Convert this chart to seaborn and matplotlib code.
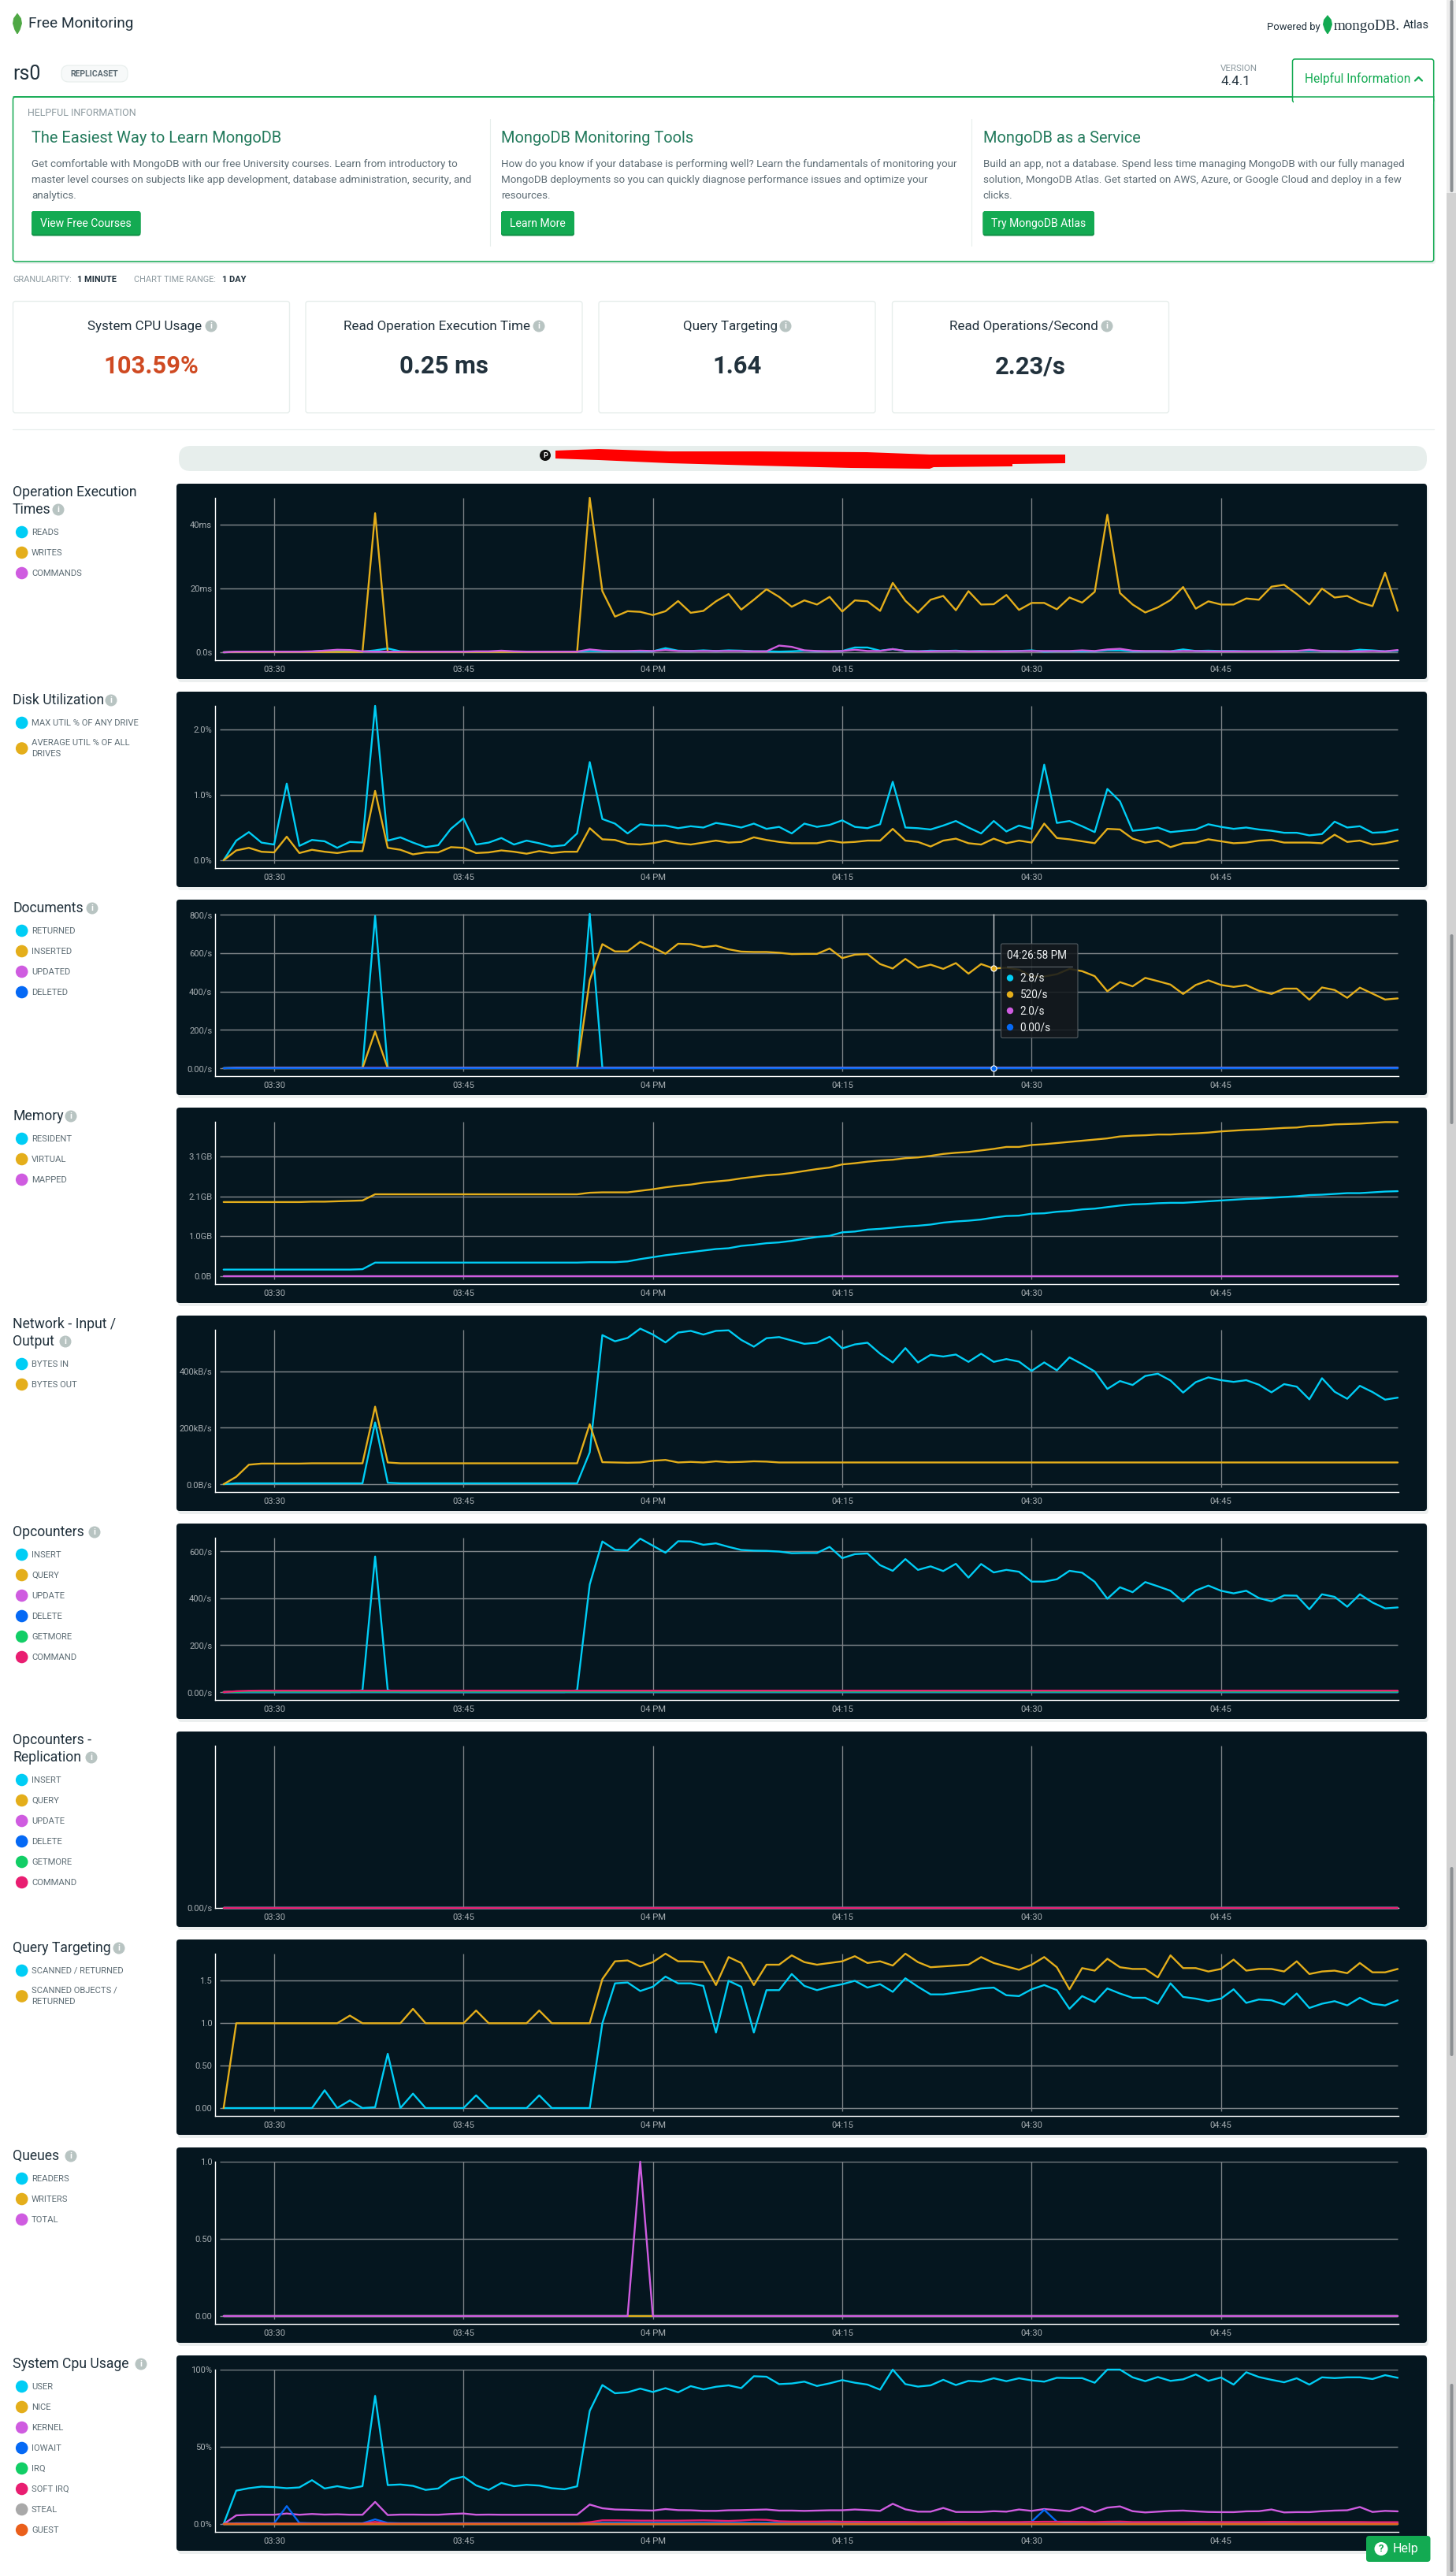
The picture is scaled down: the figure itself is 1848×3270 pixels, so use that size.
import matplotlib
matplotlib.use("Agg")
import matplotlib.pyplot as plt
import pandas as pd
import seaborn as sns
from matplotlib.patches import Circle, FancyBboxPatch, Polygon, Rectangle

W, H = 1848, 3270

# sampled once a minute, 03:26 to 04:59 (minutes after 03:30)
minutes = list(range(-4, 90))
time_ticks = [0, 15, 30, 45, 60, 75]
time_labels = ["03:30", "03:45", "04 PM", "04:15", "04:30", "04:45"]

op_reads = [0.0,0.1,0.2,0.2,0.2,0.2,0.2,0.2,0.5,0.4,0.3,0.2,0.6,1.2,0.3,0.2,0.2,0.2,0.2,0.2,0.2,0.2,0.2,0.2,
            0.2,0.2,0.2,0.2,0.2,0.4,0.3,0.3,0.3,0.3,0.3,1.3,0.5,0.4,0.6,0.4,0.6,0.5,0.3,0.3,0.2,0.3,0.5,0.3,
            0.3,0.4,1.5,1.5,0.5,1.0,0.4,0.3,0.5,0.4,0.5,0.3,0.4,0.3,0.4,0.4,0.6,0.2,0.3,0.3,0.3,0.3,0.6,0.6,
            0.3,0.3,0.3,0.3,0.9,0.4,0.5,0.4,0.4,0.3,0.3,0.3,0.4,0.4,0.5,0.4,0.3,0.3,0.8,0.6,0.3,0.5]
op_writes = [0.0,0.1,0.1,0.1,0.1,0.1,0.1,0.1,0.1,0.1,0.1,0.1,43.7,0.1,0.1,0.1,0.1,0.1,0.1,0.1,0.1,0.1,0.1,0.1,
             0.1,0.1,0.1,0.1,0.1,48.5,19.2,11.2,12.9,12.7,11.7,12.9,16.1,12.4,13.0,16.0,18.3,13.4,16.5,19.8,17.4,14.3,16.3,15.0,
             17.4,12.8,16.3,16.0,13.0,21.8,16.2,12.5,16.5,17.7,13.2,19.2,15.0,15.1,18.0,13.3,15.5,15.5,13.5,17.2,15.6,19.0,43.2,18.6,
             15.0,12.5,14.1,16.4,20.5,13.7,16.0,15.0,15.0,16.9,16.5,20.6,21.2,18.3,15.0,20.0,17.2,17.7,15.7,14.5,25.0,13.0]
op_commands = [0.0,0.2,0.2,0.2,0.2,0.2,0.2,0.3,0.5,0.8,0.7,0.3,0.2,0.2,0.2,0.2,0.2,0.2,0.2,0.2,0.3,0.3,0.5,0.3,
               0.2,0.2,0.2,0.2,0.2,0.9,0.5,0.4,0.4,0.5,0.4,0.7,0.4,0.4,0.4,0.4,0.4,0.4,0.3,0.3,2.1,1.7,0.6,0.4,
               0.3,0.4,0.8,0.4,0.4,1.0,0.4,0.3,0.3,0.4,0.4,0.3,0.3,0.3,0.3,0.4,0.4,0.4,0.4,0.4,0.6,0.4,0.9,1.1,
               0.5,0.4,0.4,0.3,0.4,0.4,0.3,0.3,0.3,0.3,0.3,0.3,0.3,0.4,0.8,0.4,0.4,0.3,0.3,0.4,0.3,0.7]

disk_max = [0.0,0.3,0.43,0.27,0.24,1.17,0.22,0.31,0.29,0.19,0.28,0.27,2.36,0.3,0.35,0.27,0.2,0.23,0.48,0.64,0.24,0.27,0.34,0.24,
            0.3,0.26,0.21,0.23,0.41,1.5,0.63,0.56,0.41,0.55,0.53,0.53,0.49,0.52,0.5,0.57,0.54,0.5,0.56,0.48,0.51,0.41,0.56,0.51,
            0.54,0.61,0.51,0.49,0.55,1.2,0.5,0.49,0.47,0.53,0.6,0.5,0.41,0.6,0.44,0.53,0.48,1.46,0.57,0.6,0.52,0.43,1.09,0.9,
            0.45,0.47,0.5,0.43,0.45,0.47,0.55,0.51,0.48,0.5,0.47,0.45,0.42,0.42,0.38,0.4,0.59,0.5,0.52,0.42,0.43,0.47]
disk_avg = [0.0,0.15,0.19,0.13,0.12,0.36,0.11,0.16,0.13,0.11,0.14,0.14,1.06,0.19,0.16,0.09,0.12,0.12,0.2,0.19,0.11,0.12,0.15,0.13,
            0.1,0.14,0.11,0.13,0.13,0.49,0.32,0.31,0.25,0.24,0.26,0.3,0.26,0.24,0.27,0.3,0.27,0.28,0.35,0.31,0.28,0.26,0.26,0.26,
            0.3,0.27,0.28,0.3,0.3,0.48,0.3,0.28,0.21,0.3,0.33,0.26,0.24,0.33,0.26,0.3,0.27,0.56,0.34,0.32,0.29,0.26,0.48,0.47,
            0.33,0.27,0.3,0.2,0.26,0.27,0.32,0.29,0.26,0.27,0.3,0.31,0.27,0.27,0.27,0.26,0.39,0.28,0.3,0.24,0.26,0.3]

docs_returned = [0.0,2.8,2.8,2.8,2.8,2.8,2.8,2.8,2.8,2.8,2.8,2.8,794,2.8,2.8,2.8,2.8,2.8,2.8,2.8,2.8,2.8,2.8,2.8,
                 2.8,2.8,2.8,2.8,2.8,805,3.0,3.0,3.0,3.0,3.0,3.0,3.0,3.0,3.0,3.0,3.0,3.0,3.0,3.0,3.0,3.0,3.0,3.0,
                 3.0,3.0,3.0,3.0,3.0,3.0,3.0,3.0,3.0,3.0,3.0,3.0,3.0,2.8,3.0,3.0,3.0,3.0,3.0,3.0,3.0,3.0,3.0,3.0,
                 3.0,3.0,3.0,3.0,3.0,3.0,3.0,3.0,3.0,3.0,3.0,3.0,3.0,3.0,3.0,3.0,3.0,3.0,3.0,3.0,3.0,3.0]
docs_inserted = [0,0,0,0,0,0,0,0,0,0,0,0,191,0,0,0,0,0,0,0,0,0,0,0,
                 0,0,0,0,0,459,647,609,609,659,630,597,649,647,631,639,620,608,606,606,602,595,596,596,
                 624,574,592,595,543,520,570,524,540,518,548,493,543,520,524,514,479,478,490,518,506,480,401,449,
                 427,471,454,436,387,434,458,434,424,433,404,387,415,415,357,421,408,367,420,389,358,364]
docs_updated = [0.0,2.0,2.0,2.0,2.0,2.0,2.0,2.0,2.0,2.0,2.0,2.0,2.0,2.0,2.0,2.0,2.0,2.0,2.0,2.0,2.0,2.0,2.0,2.0,
                2.0,2.0,2.0,2.0,2.0,2.0,2.0,2.0,2.0,2.0,2.0,2.0,2.0,2.0,2.0,2.0,2.0,2.0,2.0,2.0,2.0,2.0,2.0,2.0,
                2.0,2.0,2.0,2.0,2.0,2.0,2.0,2.0,2.0,2.0,2.0,2.0,2.0,2.0,2.0,2.0,2.0,2.0,2.0,2.0,2.0,2.0,2.0,2.0,
                2.0,2.0,2.0,2.0,2.0,2.0,2.0,2.0,2.0,2.0,2.0,2.0,2.0,2.0,2.0,2.0,2.0,2.0,2.0,2.0,2.0,2.0]
docs_deleted = [0.0] * 94

mem_resident = [0.17,0.17,0.17,0.17,0.17,0.17,0.17,0.17,0.17,0.17,0.17,0.18,0.35,0.35,0.35,0.35,0.35,0.35,0.35,0.35,0.35,0.35,0.35,0.35,
                0.35,0.35,0.35,0.35,0.35,0.36,0.36,0.36,0.38,0.44,0.49,0.54,0.58,0.62,0.66,0.7,0.72,0.78,0.81,0.85,0.87,0.91,0.96,1.01,
                1.04,1.13,1.15,1.2,1.22,1.25,1.28,1.3,1.33,1.38,1.41,1.43,1.46,1.51,1.55,1.56,1.61,1.62,1.66,1.68,1.72,1.74,1.78,1.82,
                1.85,1.86,1.88,1.89,1.89,1.91,1.93,1.95,1.97,1.99,2.0,2.02,2.04,2.06,2.09,2.1,2.12,2.14,2.14,2.16,2.18,2.19]
mem_virtual = [1.91,1.91,1.91,1.91,1.91,1.91,1.91,1.92,1.92,1.93,1.94,1.95,2.11,2.11,2.11,2.11,2.11,2.11,2.11,2.11,2.11,2.11,2.11,2.11,
               2.11,2.11,2.11,2.11,2.11,2.15,2.16,2.16,2.16,2.2,2.24,2.29,2.33,2.36,2.41,2.44,2.47,2.52,2.56,2.6,2.62,2.66,2.71,2.76,
               2.8,2.88,2.91,2.95,2.98,3.0,3.04,3.06,3.1,3.15,3.18,3.2,3.24,3.28,3.33,3.33,3.38,3.4,3.43,3.46,3.49,3.52,3.55,3.6,
               3.62,3.63,3.65,3.65,3.67,3.68,3.7,3.73,3.75,3.77,3.78,3.8,3.82,3.83,3.87,3.88,3.91,3.92,3.93,3.95,3.97,3.97]
mem_mapped = [0.0] * 94

net_in = [0,3,3,3,3,3,3,3,3,3,3,3,219,5,3,3,3,3,3,3,3,3,3,3,
          3,3,3,3,3,113,529,507,519,552,531,503,538,544,531,544,546,512,488,518,522,510,498,502,
          523,482,496,502,463,432,483,432,459,453,460,434,463,434,444,435,402,432,404,450,426,400,338,366,
          352,384,392,368,325,362,379,369,363,369,353,326,355,346,301,376,328,303,349,327,300,307]
net_out = [0,26,69,73,73,73,73,74,74,74,74,74,275,77,74,74,74,74,74,74,74,74,74,74,
           74,74,74,74,74,213,78,77,76,77,83,86,77,79,77,81,78,79,81,80,77,77,77,77,
           77,77,77,77,77,77,77,77,77,77,77,77,77,77,77,77,77,77,77,77,77,77,77,77,
           77,77,77,77,77,77,77,77,77,77,77,77,77,77,77,77,77,77,77,77,77,77]

ops_insert = [0,0,0,0,0,0,0,0,0,0,0,8,578,8,0,0,0,0,0,0,0,0,0,0,
              0,0,0,0,8,459,642,607,604,654,624,594,643,642,628,634,619,606,603,602,599,592,593,593,
              619,571,588,591,541,517,567,521,536,516,547,488,546,510,521,513,471,471,481,517,509,470,398,447,
              426,469,451,432,386,433,454,432,421,432,401,387,412,411,353,417,406,364,417,382,357,361]
ops_query = [0.0,3.0,3.0,3.0,3.0,3.0,3.0,3.0,3.0,3.0,3.0,3.0,3.0,3.0,3.0,3.0,3.0,3.0,3.0,3.0,3.0,3.0,3.0,3.0,
             3.0,3.0,3.0,3.0,3.0,3.0,3.0,3.0,3.0,3.0,3.0,3.0,3.0,3.0,3.0,3.0,3.0,3.0,3.0,3.0,3.0,3.0,3.0,3.0,
             3.0,3.0,3.0,3.0,3.0,3.0,3.0,3.0,3.0,3.0,3.0,3.0,3.0,3.0,3.0,3.0,3.0,3.0,3.0,3.0,3.0,3.0,3.0,3.0,
             3.0,3.0,3.0,3.0,3.0,3.0,3.0,3.0,3.0,3.0,3.0,3.0,3.0,3.0,3.0,3.0,3.0,3.0,3.0,3.0,3.0,3.0]
ops_update = [0.0] * 94
ops_delete = [0.0] * 94
ops_getmore = [0.0,1.0,2.0,2.0,2.0,2.0,2.0,2.0,2.0,2.0,2.0,2.0,2.0,2.0,2.0,2.0,2.0,2.0,2.0,2.0,2.0,2.0,2.0,2.0,
               2.0,2.0,2.0,2.0,2.0,2.0,2.0,2.0,2.0,2.0,2.0,2.0,2.0,2.0,2.0,2.0,2.0,2.0,2.0,2.0,2.0,2.0,2.0,2.0,
               2.0,2.0,2.0,2.0,2.0,2.0,2.0,2.0,2.0,2.0,2.0,2.0,2.0,2.0,2.0,2.0,2.0,2.0,2.0,2.0,2.0,2.0,2.0,2.0,
               2.0,2.0,2.0,2.0,2.0,2.0,2.0,2.0,2.0,2.0,2.0,2.0,2.0,2.0,2.0,2.0,2.0,2.0,2.0,2.0,2.0,2.0]
ops_command = [0.0,4.0,6.0,6.5,6.5,6.5,6.5,6.5,6.5,6.5,6.5,6.5,6.5,6.5,6.5,6.5,6.5,6.5,6.5,6.5,6.5,6.5,6.5,6.5,
               6.5,6.5,6.5,6.5,6.5,6.5,6.5,6.5,6.5,6.5,6.5,6.5,6.5,6.5,6.5,6.5,6.5,6.5,6.5,6.5,6.5,6.5,6.5,6.5,
               6.5,6.5,6.5,6.5,6.5,6.5,6.5,6.5,6.5,6.5,6.5,6.5,6.5,6.5,6.5,6.5,6.5,6.5,6.5,6.5,6.5,6.5,6.5,6.5,
               6.5,6.5,6.5,6.5,6.5,6.5,6.5,6.5,6.5,6.5,6.5,6.5,6.5,6.5,6.5,6.5,6.5,6.5,6.5,6.5,6.5,6.5]

repl_zero = [0.0] * 94

qt_scanned = [0,0,0,0,0,0,0,0,0.21,0,0.09,0,0.01,0.64,0,0.17,0,0,0,0,0.15,0,0,0,
              0,0.15,0,0,0,0,1.0,1.47,1.48,1.38,1.43,1.55,1.47,1.47,1.44,0.89,1.5,1.43,0.89,1.39,1.39,1.58,1.44,1.39,
              1.43,1.46,1.5,1.42,1.46,1.37,1.53,1.43,1.34,1.34,1.36,1.38,1.41,1.42,1.33,1.32,1.4,1.45,1.39,1.17,1.32,1.25,1.41,1.35,
              1.3,1.3,1.23,1.47,1.31,1.29,1.26,1.29,1.4,1.24,1.28,1.27,1.22,1.35,1.18,1.23,1.26,1.21,1.3,1.23,1.21,1.27]
qt_objects = [0,1,1,1,1,1,1,1,1,1,1.09,1,1,1,1,1.17,1,1,1,1,1.15,1,1,1,
              1,1.15,1,1,1,1,1.52,1.73,1.74,1.67,1.72,1.82,1.73,1.73,1.72,1.45,1.78,1.71,1.45,1.69,1.69,1.8,1.72,1.69,
              1.71,1.73,1.79,1.71,1.73,1.68,1.82,1.72,1.66,1.67,1.68,1.69,1.78,1.71,1.67,1.63,1.69,1.78,1.66,1.4,1.65,1.62,1.76,1.66,
              1.64,1.64,1.54,1.8,1.65,1.65,1.61,1.64,1.75,1.62,1.64,1.64,1.61,1.73,1.58,1.61,1.62,1.59,1.71,1.6,1.6,1.64]

q_readers = [0.0] * 94
q_writers = [0.0] * 94
q_total = [0,0,0,0,0,0,0,0,0,0,0,0,0,0,0,0,0,0,0,0,0,0,0,0,
           0,0,0,0,0,0,0,0,0,1.0,0,0,0,0,0,0,0,0,0,0,0,0,0,0,
           0,0,0,0,0,0,0,0,0,0,0,0,0,0,0,0,0,0,0,0,0,0,0,0,
           0,0,0,0,0,0,0,0,0,0,0,0,0,0,0,0,0,0,0,0,0,0]

cpu_user = [0,21.6,23.2,24.2,23.9,23.2,23.7,28.4,23,24.5,23,24.5,83,25.2,25.6,24.7,22.1,23,28.8,30.7,25,22.1,26.6,24.5,
            25.4,24.9,23.2,22.5,24.4,73.3,90,84.7,85.3,87.7,85.5,88,85.3,89.3,87.2,88.9,89.8,88,95.7,95.4,90.6,91,92.2,89.4,
            91.1,93.2,91.5,90.3,87,100,90.6,89,89.8,93.4,90,92.7,92.2,94.4,92.5,94.4,93,92.2,94.7,94.5,94.5,91.5,100,100,
            95,92.5,95.2,92.7,93.7,96.9,92.7,94.9,90.3,98.3,95.2,93.4,91.8,94.4,90.3,95,94.5,95,95,93.9,96.4,94.7]
cpu_nice = [0.0] * 94
cpu_kernel = [0,5.6,6,6,6,6.8,6,6.5,6.1,6.3,6,6,14.3,5.8,6.1,6.1,6,6,6.5,6.8,6,6.1,6,6,
              6,6,6,6,6,12.6,10.2,9.4,9.2,8.9,8.7,9.7,9,8.9,8.5,8.5,8.9,9,9.2,9.4,8.7,8.7,8.5,8.7,
              8.9,8.9,9.4,9,8.5,13.1,9.5,8,8,10.4,7.8,7.8,7.8,8.3,8,9.4,8.5,9.7,9,8.3,11,7.8,10.6,11.4,
              8.3,7.5,8,8.5,8.7,8.2,7.8,7.7,7.7,8.2,8.3,9.4,7.5,7.7,7.7,8.3,8.7,8.9,11,7.8,8.5,8.2]
cpu_iowait = [0,0.5,0.5,0.5,0.5,11.6,0.7,0.5,0.5,0.5,0.5,0.5,3,0.7,0.5,0.5,0.5,0.5,0.5,0.5,0.5,0.5,0.5,0.5,
              0.5,0.5,0.5,0.5,0.5,0.6,0.8,0.8,0.8,0.8,0.8,0.8,0.8,0.8,0.8,0.8,0.8,0.8,0.8,0.8,0.8,0.8,0.8,0.8,
              0.8,0.8,0.8,0.8,0.8,0.8,0.8,0.8,0.8,0.8,0.8,0.8,0.8,0.8,0.8,0.8,1.5,9.2,1.5,0.8,0.8,0.8,0.8,0.8,
              0.8,0.8,0.8,0.8,0.8,0.8,0.8,0.8,0.8,0.8,0.8,0.8,0.8,0.8,0.8,0.8,0.8,0.8,0.8,0.8,0.8,0.8]
cpu_irq = [0.0] * 94
cpu_softirq = [0,0.2,0.2,0.2,0.2,0.2,0.2,0.2,0.2,0.2,0.2,0.2,1.4,0.2,0.2,0.2,0.2,0.2,0.2,0.2,0.2,0.2,0.2,0.2,
               0.2,0.2,0.2,0.2,0.3,1.2,2.4,2.4,2.3,2.2,2.2,2.2,2.2,2.3,2.4,2.2,2.0,2.3,2.8,2.7,1.8,1.6,1.6,1.6,
               1.7,1.5,1.5,1.4,1.4,1.4,1.4,1.3,1.3,1.3,1.4,1.3,1.3,1.3,1.3,1.3,1.4,1.5,1.5,1.5,1.4,1.3,1.5,1.6,
               1.3,1.3,1.3,1.3,1.3,1.4,1.3,1.3,1.3,1.3,1.3,1.4,1.4,1.3,1.3,1.3,1.3,1.3,1.3,1.2,1.2,1.2]
cpu_steal = [0.0] * 94
cpu_guest = [0.0] * 94

card_titles = ["System CPU Usage", "Read Operation Execution Time", "Query Targeting", "Read Operations/Second"]
card_values = ["103.59%", "0.25 ms", "1.64", "2.23/s"]

tooltip_rows = ["2.8/s", "520/s", "2.0/s", "0.00/s"]

CYAN = "#00CDF5"
AMBER = "#E4AE1B"
PURPLE = "#CF5CE0"
BLUE = "#0569F5"
GREEN = "#12CE66"
PINK = "#E91E71"
GRAY = "#A9A9A9"
ORANGE = "#EA5F1B"
PANEL = "#05161F"
GRID = "#7E8488"
DARK = "#21313C"
BODY = "#5D6C74"
MUTED = "#8C999F"
GREEN_BTN = "#13AA52"
HEAD_GREEN = "#237A5C"

charts = [
    dict(title=["Operation Execution", "Times"], icon_x=74, ymax=48.5, ticks=[0, 20, 40], ticklabels=["0.0s", "20ms", "40ms"],
         series=[("READS", op_reads, CYAN), ("WRITES", op_writes, AMBER), ("COMMANDS", op_commands, PURPLE)]),
    dict(title=["Disk Utilization"], icon_x=141, ymax=2.36, ticks=[0, 1, 2], ticklabels=["0.0%", "1.0%", "2.0%"],
         series=[("MAX UTIL % OF ANY DRIVE", disk_max, CYAN), ("AVERAGE UTIL % OF ALL\nDRIVES", disk_avg, AMBER)]),
    dict(title=["Documents"], icon_x=117, ymax=805, ticks=[0, 200, 400, 600, 800], ticklabels=["0.00/s", "200/s", "400/s", "600/s", "800/s"],
         series=[("RETURNED", docs_returned, CYAN), ("INSERTED", docs_inserted, AMBER), ("UPDATED", docs_updated, PURPLE), ("DELETED", docs_deleted, BLUE)]),
    dict(title=["Memory"], icon_x=90, ymax=3.978, ticks=[0, 1.03, 2.06, 3.09], ticklabels=["0.0B", "1.0GB", "2.1GB", "3.1GB"],
         series=[("RESIDENT", mem_resident, CYAN), ("VIRTUAL", mem_virtual, AMBER), ("MAPPED", mem_mapped, PURPLE)]),
    dict(title=["Network - Input /", "Output"], icon_x=83, ymax=548, ticks=[0, 200, 400], ticklabels=["0.0B/s", "200kB/s", "400kB/s"],
         series=[("BYTES IN", net_in, CYAN), ("BYTES OUT", net_out, AMBER)]),
    dict(title=["Opcounters"], icon_x=120, ymax=658, ticks=[0, 200, 400, 600], ticklabels=["0.00/s", "200/s", "400/s", "600/s"],
         series=[("INSERT", ops_insert, CYAN), ("QUERY", ops_query, AMBER), ("UPDATE", ops_update, PURPLE), ("DELETE", ops_delete, BLUE),
                 ("GETMORE", ops_getmore, GREEN), ("COMMAND", ops_command, PINK)]),
    dict(title=["Opcounters -", "Replication"], icon_x=116, ymax=1.0, ticks=[0], ticklabels=["0.00/s"], flat=True,
         series=[("INSERT", repl_zero, CYAN), ("QUERY", repl_zero, AMBER), ("UPDATE", repl_zero, PURPLE), ("DELETE", repl_zero, BLUE),
                 ("GETMORE", repl_zero, GREEN), ("COMMAND", repl_zero, PINK)]),
    dict(title=["Query Targeting"], icon_x=151, ymax=1.82, ticks=[0, 0.5, 1.0, 1.5], ticklabels=["0.00", "0.50", "1.0", "1.5"],
         series=[("SCANNED / RETURNED", qt_scanned, CYAN), ("SCANNED OBJECTS /\nRETURNED", qt_objects, AMBER)]),
    dict(title=["Queues"], icon_x=90, ymax=1.0, ticks=[0, 0.5, 1.0], ticklabels=["0.00", "0.50", "1.0"],
         series=[("READERS", q_readers, CYAN), ("WRITERS", q_writers, AMBER), ("TOTAL", q_total, PURPLE)]),
    dict(title=["System Cpu Usage"], icon_x=179, ymax=100, ticks=[0, 50, 100], ticklabels=["0.0%", "50%", "100%"],
         series=[("USER", cpu_user, CYAN), ("NICE", cpu_nice, AMBER), ("KERNEL", cpu_kernel, PURPLE), ("IOWAIT", cpu_iowait, BLUE),
                 ("IRQ", cpu_irq, GREEN), ("SOFT IRQ", cpu_softirq, PINK), ("STEAL", cpu_steal, GRAY), ("GUEST", cpu_guest, ORANGE)]),
]

sns.set_theme(style="dark")
plt.rcParams["font.family"] = ["Roboto", "DejaVu Sans"]

fig = plt.figure(figsize=(W / 100, H / 100), dpi=100, facecolor="white")
page = fig.add_axes([0, 0, 1, 1], zorder=0)
page.set_xlim(0, W)
page.set_ylim(H, 0)
page.axis("off")
over = fig.add_axes([0, 0, 1, 1], zorder=5)
over.set_xlim(0, W)
over.set_ylim(H, 0)
over.axis("off")
over.patch.set_alpha(0)


def txt(x, y, s, px, color=DARK, weight="normal", ha="left", ax=page, **kw):
    return ax.text(x, y, s, fontsize=px * 0.72, color=color, fontweight=weight, ha=ha, va="center", **kw)


def box(x0, y0, x1, y1, fc="white", ec="none", lw=1.0, r=3, ax=page, **kw):
    p = FancyBboxPatch((x0, y0), x1 - x0, y1 - y0, boxstyle=f"round,pad=0,rounding_size={r}",
                       fc=fc, ec=ec, lw=lw, **kw)
    ax.add_patch(p)
    return p


def leaf(x, y0, y1, half, color):
    page.add_patch(Polygon([(x, y0), (x + half * 0.8, y0 + (y1 - y0) * 0.25), (x + half, y0 + (y1 - y0) * 0.5),
                            (x + half * 0.6, y0 + (y1 - y0) * 0.8), (x + 0.6, y1), (x - 0.6, y1),
                            (x - half * 0.6, y0 + (y1 - y0) * 0.8), (x - half, y0 + (y1 - y0) * 0.5),
                            (x - half * 0.8, y0 + (y1 - y0) * 0.25)], fc=color, ec="none"))


def info_icon(x, y):
    page.add_patch(Circle((x, y), 7.5, fc="#B8C4C2", ec="none"))
    txt(x, y, "i", 11, color="white", weight="bold", ha="center")


# header
leaf(22, 16.5, 43, 6, "#4FA845")
txt(36, 30, "Free Monitoring", 19)
txt(1608, 34, "Powered by", 13)
leaf(1685, 19, 43, 6, "#13AA52")
page.text(1693, 33, "mongoDB.", fontsize=19 * 0.72, family="Liberation Serif", color=DARK, va="center")
txt(1781, 32, "Atlas", 14.5)
txt(16, 94, "rs0", 25)
box(78, 83, 162, 104, fc="#F7F9F9", ec="#E7EEEC", lw=0.8, r=9)
txt(120, 93.5, "REPLICASET", 10.5, color=BODY, weight="bold", ha="center")
txt(1549, 86.5, "VERSION", 11.5, color=MUTED)
txt(1549, 103.5, "4.4.1", 17)

# helpful information box
box(18, 126, 1822, 335, fc="#EEF2F1", r=3)
box(16.5, 123, 1819.7, 332, fc="white", ec=GREEN_BTN, lw=1.1, r=3)
box(1640.5, 75, 1819.7, 130, fc="white", ec=GREEN_BTN, lw=1.1, r=3)
page.add_patch(Rectangle((1641.5, 124), 177.5, 8, fc="white", ec="none", zorder=2))
page.plot([16.5, 1819.7], [123, 123], color=GREEN_BTN, lw=1.1, zorder=3)
txt(1656.5, 100, "Helpful Information", 15.5, color=GREEN_BTN)
page.plot([1796, 1800.5, 1805], [102.5, 98, 102.5], color=GREEN_BTN, lw=1.6)
txt(35, 143, "HELPFUL INFORMATION", 12.5, color=MUTED)
page.plot([622, 622], [151, 312], color="#E7EEEC", lw=0.8)
page.plot([1233, 1233], [151, 312], color="#E7EEEC", lw=0.8)

col_x = [40, 636, 1247.5]
col_heads = ["The Easiest Way to Learn MongoDB", "MongoDB Monitoring Tools", "MongoDB as a Service"]
col_lines = [
    ["Get comfortable with MongoDB with our free University courses. Learn from introductory to",
     "master level courses on subjects like app development, database administration, security, and",
     "analytics."],
    ["How do you know if your database is performing well? Learn the fundamentals of monitoring your",
     "MongoDB deployments so you can quickly diagnose performance issues and optimize your",
     "resources."],
    ["Build an app, not a database. Spend less time managing MongoDB with our fully managed",
     "solution, MongoDB Atlas. Get started on AWS, Azure, or Google Cloud and deploy in a few",
     "clicks."],
]
buttons = [("View Free Courses", 138.5), ("Learn More", 93), ("Try MongoDB Atlas", 141.5)]
for cx, head, lines, (label, bw) in zip(col_x, col_heads, col_lines, buttons):
    txt(cx, 175, head, 20, color=HEAD_GREEN)
    for ly, line in zip([208, 228.5, 248.5], lines):
        txt(cx, ly, line, 13.4, color=BODY)
    box(cx, 268, cx + bw, 299.5, fc="#0F8F45", r=3)
    box(cx, 268, cx + bw, 297.5, fc=GREEN_BTN, r=3)
    txt(cx + bw / 2, 284, label, 14, color="white", ha="center")

txt(16, 355, "GRANULARITY:", 11, color=MUTED)
txt(98.5, 355, "1 MINUTE", 11, weight="bold")
txt(170, 355, "CHART TIME RANGE:", 11, color=MUTED)
txt(282, 355, "1 DAY", 11, weight="bold")

# summary cards
card_x = [16.5, 388, 760, 1132.5]
card_icon = [268, 684, 997, 1405]
for cx, ttl, val, ic in zip(card_x, card_titles, card_values, card_icon):
    box(cx, 382.5, cx + 351, 524, fc="white", ec="#E7EEEC", lw=1.0, r=3)
    txt(cx + 167, 414, ttl, 17, ha="center")
    info_icon(ic, 414)
    txt(cx + 175.5, 465, val, 31, color="#CF4A22" if val.endswith("%") else DARK, weight="bold", ha="center")

page.plot([16, 1820], [545, 545], color="#E7EEEC", lw=0.9)

# server pill with the scribbled-out host name
box(227, 566, 1811, 598, fc="#E7EEEC", r=15)
page.add_patch(Circle((692, 578), 7, fc="#111111", ec="none"))
txt(692, 578, "P", 9, color="white", weight="bold", ha="center")
page.add_patch(Polygon([(705, 572), (760, 570), (850, 573), (960, 573), (1100, 574), (1180, 577), (1352, 577),
                        (1352, 588), (1285, 589), (1285, 592), (1185, 593), (1180, 595), (1080, 594), (960, 591),
                        (850, 588), (760, 584), (705, 582)], fc="#FF0000", ec="none"))

# charts
for k, c in enumerate(charts):
    top = 614 + 264 * k
    panel_bottom = top + 248
    box(226, top + 3, 1813, panel_bottom + 4, fc="#ECEFEF", r=4)
    box(224, top, 1811, panel_bottom, fc=PANEL, r=4)

    # title, info icon and legend on the left
    ty = top + 11
    for line in c["title"]:
        txt(16, ty, line, 17.6)
        ty += 22
    info_icon(c["icon_x"], ty - 22)
    ly = ty + 6.5
    for label, _, color in c["series"]:
        two = "\n" in label
        dot_y = ly + (6.5 if two else 0)
        if two:
            ly += 6.5
        page.add_patch(Circle((27.7, dot_y), 7.8, fc=color, ec="none"))
        page.text(40, dot_y, label, fontsize=11.2 * 0.72, color=BODY, va="center", ha="left", linespacing=1.55)
        ly += 26

    flat = c.get("flat", False)
    axis_px = top + 224
    plot_top = top + 18
    ymin = 0 if flat else -c["ymax"] * 10 / 196
    ax = fig.add_axes([273.4 / W, 1 - axis_px / H, (1775 - 273.4) / W, (axis_px - plot_top) / H], zorder=2)
    ax.patch.set_alpha(0)
    ax.set_xlim(-4.65, 89.06)
    ax.set_ylim(ymin, c["ymax"])

    ax.grid(False)
    ax.hlines(c["ticks"], -4.3, 89, color=GRID, lw=1.05, zorder=1)
    tick_low = 0 if flat else -c["ymax"] * 4 / 196
    ax.vlines(time_ticks, tick_low, c["ymax"], color=GRID, lw=0.95, zorder=1)

    frames = [pd.DataFrame({"minute": minutes, "value": vals, "series": name}) for name, vals, _ in c["series"]]
    long_df = pd.concat(frames, ignore_index=True)
    sns.lineplot(data=long_df, x="minute", y="value", hue="series", ax=ax, estimator=None, sort=False,
                 palette={name: col for name, _, col in c["series"]},
                 hue_order=[name for name, _, _ in c["series"]], lw=1.7, legend=False, clip_on=False, zorder=3)

    sns.despine(ax=ax, top=True, right=True)
    for side in ("left", "bottom"):
        ax.spines[side].set_color("white")
        ax.spines[side].set_linewidth(1.0)
    ax.set_xlabel("")
    ax.set_ylabel("")
    ax.set_xticks(time_ticks)
    ax.set_xticklabels(time_labels, fontsize=11.2 * 0.72, color="#A7AEB2")
    ax.set_yticks(c["ticks"])
    ax.set_yticklabels(c["ticklabels"], fontsize=11.2 * 0.72, color="#A7AEB2")
    ax.tick_params(axis="x", length=0, pad=5)
    ax.tick_params(axis="y", length=0, pad=3)

    if k == 2:
        # hover state at 04:27
        hover_i = minutes.index(57)
        ax.vlines(57, ymin, c["ymax"], color="#C9CDD0", lw=1.0, zorder=4)
        for vals, col in ((docs_inserted, AMBER), (docs_deleted, BLUE)):
            ax.plot(57, vals[hover_i], "o", ms=5.2, mfc=col, mec="white", mew=0.8, zorder=6, clip_on=False)

# tooltip and help button sit above the charts
box(1270.5, 1198, 1368, 1317.5, fc="#14191D", ec="#5E666B", lw=0.8, r=2, ax=over, alpha=0.88)
txt(1278, 1212.5, "04:26:58 PM", 13.5, color="#F0F3F4", ha="left", ax=over)
over.plot([1278, 1361], [1226.5, 1226.5], color="#5E666B", lw=0.8)
for ry, row, col in zip([1241.5, 1262.5, 1283, 1304], tooltip_rows, [CYAN, AMBER, PURPLE, BLUE]):
    over.add_patch(Circle((1282, ry), 4.2, fc=col, ec="none"))
    txt(1294.5, ry, row, 13.5, color="#F0F3F4", ax=over)

box(1734, 3219, 1815.5, 3252, fc=GREEN_BTN, r=4, ax=over)
over.add_patch(Circle((1753, 3235.5), 8.5, fc="white", ec="none"))
txt(1753, 3235.5, "?", 13, color=GREEN_BTN, weight="bold", ha="center", ax=over)
txt(1768, 3235.5, "Help", 16, color="white", ax=over)

# browser scrollbar from the stitched screenshots
page.add_patch(Rectangle((1836, 0), 12, H, fc="#D2D2D2", ec="none"))
page.add_patch(Rectangle((1836, 0), 12, 245, fc="#EDEDED", ec="none"))
for y0, y1 in [(0, 244), (1186, 1427), (2370, 2610), (3026, 3265)]:
    page.add_patch(FancyBboxPatch((1840.5, y0), 4, y1 - y0, boxstyle="round,pad=0,rounding_size=2", fc="#8B8F92", ec="none"))

fig.savefig("out.png", dpi=100)
